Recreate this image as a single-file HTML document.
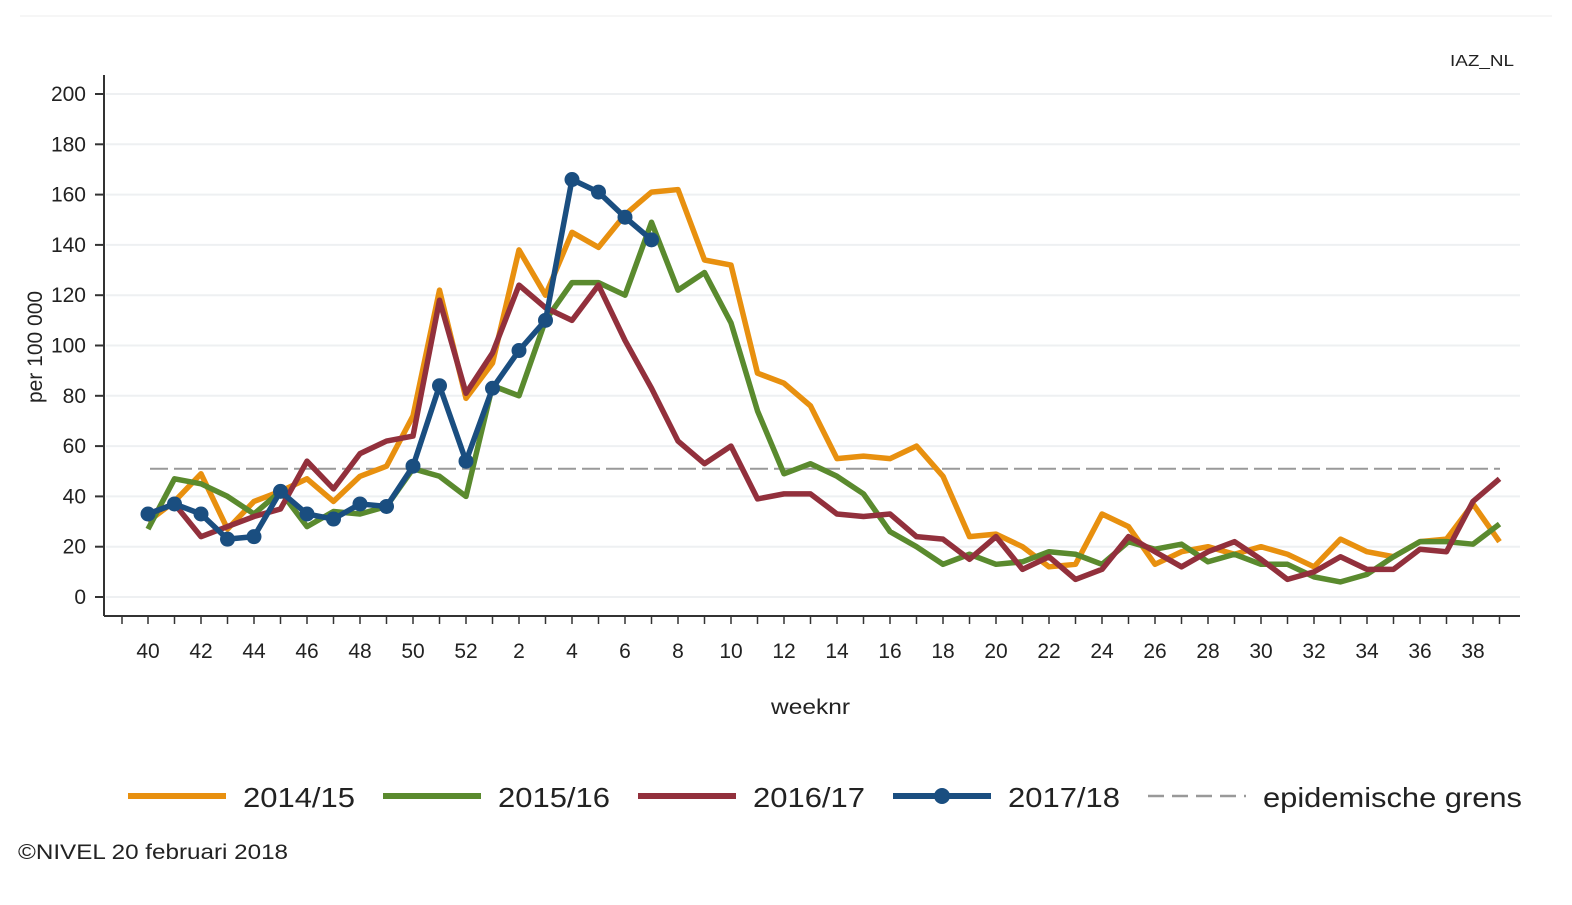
<!DOCTYPE html>
<html><head><meta charset="utf-8"><style>
html,body{margin:0;padding:0;background:#fff;}
svg text{font-family:"Liberation Sans",Arial,sans-serif;fill:#222;}
</style></head><body>
<svg id="c" width="1572" height="900" xmlns="http://www.w3.org/2000/svg">
<rect width="1572" height="900" fill="#fff"/>
<line x1="20" y1="16" x2="1552" y2="16" stroke="#eee" stroke-width="1"/>
<text x="1450" y="66" font-size="16" textLength="64" lengthAdjust="spacingAndGlyphs">IAZ_NL</text>
<text x="771" y="714" font-size="21" textLength="79" lengthAdjust="spacingAndGlyphs">weeknr</text>
<text transform="translate(42,347) rotate(-90)" font-size="21" text-anchor="middle">per 100 000</text>
<g id="grid"></g>
<g id="series"></g>
<line x1="104" y1="75" x2="104" y2="616" stroke="#333" stroke-width="2"/>
<line x1="104" y1="616" x2="1520" y2="616" stroke="#333" stroke-width="2"/>
<g id="legend">
<line x1="128" y1="796" x2="226" y2="796" stroke="#E8900F" stroke-width="6"/>
<text x="243" y="807" font-size="28" textLength="112" lengthAdjust="spacingAndGlyphs">2014/15</text>
<line x1="383" y1="796" x2="481" y2="796" stroke="#5A8A2E" stroke-width="6"/>
<text x="498" y="807" font-size="28" textLength="112" lengthAdjust="spacingAndGlyphs">2015/16</text>
<line x1="638" y1="796" x2="736" y2="796" stroke="#92303C" stroke-width="6"/>
<text x="753" y="807" font-size="28" textLength="112" lengthAdjust="spacingAndGlyphs">2016/17</text>
<line x1="893" y1="796" x2="991" y2="796" stroke="#1A4E80" stroke-width="6"/>
<circle cx="942" cy="796" r="8" fill="#1A4E80"/>
<text x="1008" y="807" font-size="28" textLength="112" lengthAdjust="spacingAndGlyphs">2017/18</text>
<line x1="1148" y1="796" x2="1246" y2="796" stroke="#999" stroke-width="2.5" stroke-dasharray="16,8"/>
<text x="1263" y="807" font-size="28" textLength="259" lengthAdjust="spacingAndGlyphs">epidemische grens</text>
</g>
<text x="18" y="859" font-size="21" textLength="270" lengthAdjust="spacingAndGlyphs">©NIVEL 20 februari 2018</text>
</svg>
<script>
var ns="http://www.w3.org/2000/svg";
function el(t,a,p){var e=document.createElementNS(ns,t);for(var k in a)e.setAttribute(k,a[k]);document.getElementById(p).appendChild(e);return e;}
function X(i){return 148+26.5*i;}
function Y(v){return 597-v*2.515;}
for(var v=0;v<=200;v+=20){
  el("line",{x1:106,y1:Y(v),x2:1520,y2:Y(v),stroke:"#eef0f2","stroke-width":2},"grid");
  el("line",{x1:95,y1:Y(v),x2:104,y2:Y(v),stroke:"#333","stroke-width":2},"grid");
  var t=el("text",{x:86,y:Y(v)+7,"font-size":21,"text-anchor":"end"},"grid");t.textContent=v;
}
var weeks=[];for(var w=40;w<=52;w++)weeks.push(w);for(var w=1;w<=39;w++)weeks.push(w);
for(var i=0;i<weeks.length;i++){
  var x=X(i);
  el("line",{x1:x,y1:616,x2:x,y2:624,stroke:"#333","stroke-width":1.5},"grid");
  if(weeks[i]%2==0){var t=el("text",{x:x,y:658,"font-size":21,"text-anchor":"middle"},"grid");t.textContent=weeks[i];}
}
el("line",{x1:122,y1:616,x2:122,y2:624,stroke:"#333","stroke-width":1.5},"grid");
el("line",{x1:150,y1:Y(51),x2:1500,y2:Y(51),stroke:"#999","stroke-width":2,"stroke-dasharray":"18,6"},"series");
var O=[30,38,49,27,38,42,47,38,48,52,72,122,79,93,138,120,145,139,152,161,162,134,132,89,85,76,55,56,55,60,48,24,25,20,12,13,33,28,13,18,20,17,20,17,12,23,18,16,22,23,37,22];
var G=[27,47,45,40,33,42,28,34,33,36,51,48,40,84,80,110,125,125,120,149,122,129,109,74,49,53,48,41,26,20,13,17,13,14,18,17,13,22,19,21,14,17,13,13,8,6,9,16,22,22,21,29];
var R=[33,37,24,28,32,35,54,43,57,62,64,118,81,97,124,115,110,124,102,83,62,53,60,39,41,41,33,32,33,24,23,15,24,11,16,7,11,24,18,12,18,22,15,7,10,16,11,11,19,18,38,47];
var B=[33,37,33,23,24,42,33,31,37,36,52,84,54,83,98,110,166,161,151,142];
function line(d,c){var p=d.map(function(v,i){return X(i)+","+Y(v);}).join(" ");
 el("polyline",{points:p,fill:"none",stroke:c,"stroke-width":5.5,"stroke-linejoin":"round"},"series");}
line(O,"#E8900F");line(G,"#5A8A2E");line(R,"#92303C");line(B,"#1A4E80");
B.forEach(function(v,i){el("circle",{cx:X(i),cy:Y(v),r:7.5,fill:"#1A4E80"},"series");});
</script>
</body></html>
